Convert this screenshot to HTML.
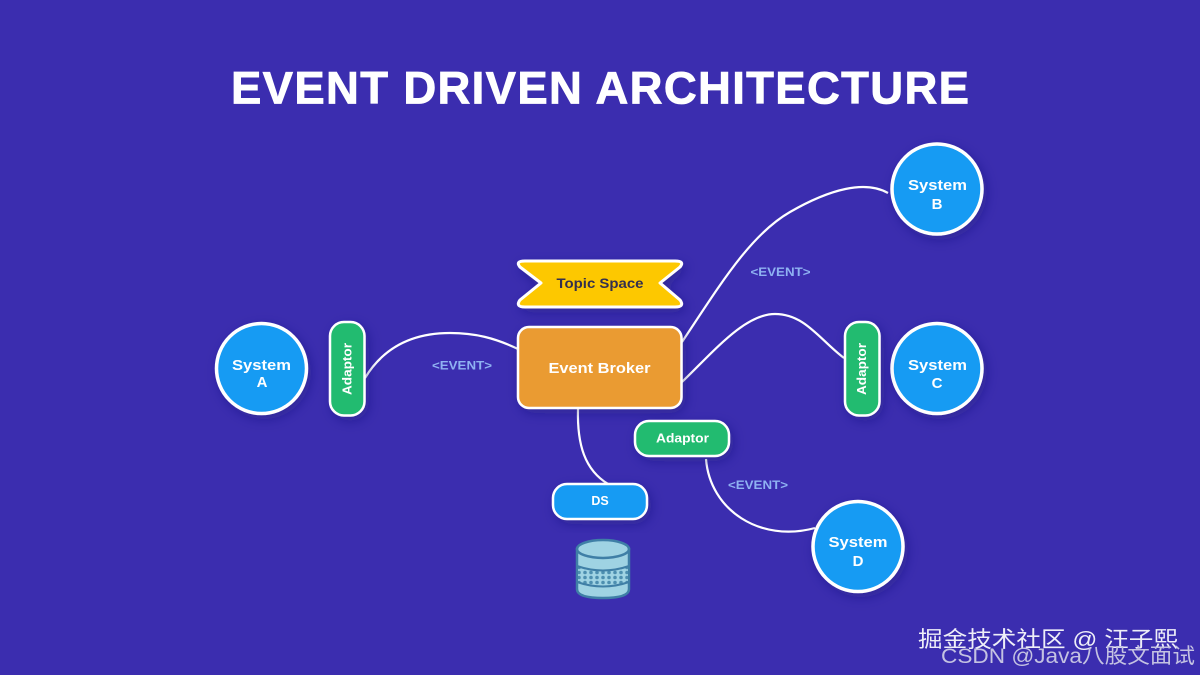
<!DOCTYPE html>
<html><head><meta charset="utf-8">
<style>
html,body{margin:0;padding:0;background:#3b2daf;width:1200px;height:675px;overflow:hidden}
svg{display:block}
text{font-family:"Liberation Sans","Noto Sans CJK SC",sans-serif}
</style></head>
<body>
<svg width="1200" height="675" viewBox="0 0 1200 675" xmlns="http://www.w3.org/2000/svg">
<defs>
<filter id="s" x="-30%" y="-30%" width="170%" height="170%"><feDropShadow dx="3" dy="4" stdDeviation="6" flood-color="#1c1470" flood-opacity=".38"/></filter>
<pattern id="dots" width="6" height="5" patternUnits="userSpaceOnUse"><rect width="6" height="5" fill="#9fd3e3"/><circle cx="3" cy="2.500" r="1.800" fill="#4d8fb0"/></pattern>
</defs>
<rect width="1200" height="675" fill="#3b2daf"/>
<text x="600" y="103.500" text-anchor="middle" font-size="45.500" font-weight="700" fill="#fff" stroke="#fff" stroke-width="0.800" textLength="738" lengthAdjust="spacing">EVENT DRIVEN ARCHITECTURE</text>

<g fill="none" stroke="#fff" stroke-width="2.200">
<path d="M365 378C385 345 415 333 450 333C475 333 495 338 518 349"/>
<path d="M682 342C720 285 750 235 790 212C830 189 865 180 888 193"/>
<path d="M682 382C715 350 745 314 775 314C805 314 820 340 844 358"/>
<path d="M578 409C577 445 585 470 608 484"/>
<path d="M706 459C710 510 760 543 815 528"/>
</g>

<g filter="url(#s)">
<path d="M525 261H675Q685 261 680 267L660 283L680 300Q685 307 675 307H525Q515 307 520 300L541 283L520 267Q515 261 525 261Z" fill="#fdc800" stroke="#fff" stroke-width="3" stroke-linejoin="round"/>
</g>
<text x="600" y="288" text-anchor="middle" font-size="14" font-weight="700" fill="#33304f" textLength="87" lengthAdjust="spacingAndGlyphs">Topic Space</text>

<rect x="518" y="327" width="163.500" height="81" rx="11" fill="#ea9b33" stroke="#fff" stroke-width="2.500" filter="url(#s)"/>
<text x="599.500" y="373" text-anchor="middle" font-size="14.500" font-weight="700" fill="#fff" textLength="102" lengthAdjust="spacingAndGlyphs">Event Broker</text>

<g filter="url(#s)" fill="#159bf3" stroke="#fff" stroke-width="3.500">
<circle cx="261.500" cy="368.500" r="45"/>
<circle cx="937" cy="189" r="45"/>
<circle cx="937" cy="368.500" r="45"/>
<circle cx="858" cy="546.500" r="45"/>
</g>
<g font-size="15" font-weight="700" fill="#fff" text-anchor="middle">
<text x="261.500" y="370" textLength="59" lengthAdjust="spacingAndGlyphs">System</text><text x="262" y="387">A</text>
<text x="937.500" y="190" textLength="59" lengthAdjust="spacingAndGlyphs">System</text><text x="937" y="209">B</text>
<text x="937.500" y="370" textLength="59" lengthAdjust="spacingAndGlyphs">System</text><text x="937" y="388">C</text>
<text x="858" y="547" textLength="59" lengthAdjust="spacingAndGlyphs">System</text><text x="858" y="566">D</text>
</g>

<g filter="url(#s)" fill="#20bb70" stroke="#fff" stroke-width="2.500">
<rect x="330" y="322" width="34.500" height="93.500" rx="14"/>
<rect x="845" y="322" width="34.500" height="93.500" rx="14"/>
<rect x="635" y="421" width="94" height="35" rx="14"/>
</g>
<g font-size="12.500" font-weight="700" fill="#fff" text-anchor="middle">
<text transform="translate(351.500 369) rotate(-90)" textLength="52" lengthAdjust="spacingAndGlyphs">Adaptor</text>
<text transform="translate(866 369) rotate(-90)" textLength="52" lengthAdjust="spacingAndGlyphs">Adaptor</text>
<text x="682.500" y="442.500" textLength="53" lengthAdjust="spacingAndGlyphs">Adaptor</text>
</g>

<rect x="553" y="484" width="94" height="35" rx="14" fill="#159bf3" stroke="#fff" stroke-width="2.500" filter="url(#s)"/>
<text x="600" y="505" text-anchor="middle" font-size="12.500" font-weight="700" fill="#fff">DS</text>

<g font-size="12" font-weight="700" fill="#8fb2f2" text-anchor="middle">
<text x="462" y="369.500" textLength="60" lengthAdjust="spacingAndGlyphs">&lt;EVENT&gt;</text>
<text x="780.500" y="276" textLength="60" lengthAdjust="spacingAndGlyphs">&lt;EVENT&gt;</text>
<text x="758" y="489" textLength="60" lengthAdjust="spacingAndGlyphs">&lt;EVENT&gt;</text>
</g>

<g stroke="#3f7fa6" stroke-width="2.500">
<path d="M577 549V589Q577 598 603 598Q629 598 629 589V549Z" fill="#9fd3e3"/>
<ellipse cx="603" cy="549" rx="26" ry="9" fill="#9fd3e3"/>
<path d="M577 566Q603 575 629 566V582Q603 591 577 582Z" fill="url(#dots)" stroke-width="2"/>
</g>

<text x="1048" y="647" text-anchor="middle" font-size="22" fill="#eeeef8" textLength="260" lengthAdjust="spacingAndGlyphs">掘金技术社区 @ 汪子熙</text>
<text x="1068" y="663" text-anchor="middle" font-size="21" fill="#c4c2e2" textLength="254" lengthAdjust="spacingAndGlyphs">CSDN @Java八股文面试</text>
</svg>
</body></html>
